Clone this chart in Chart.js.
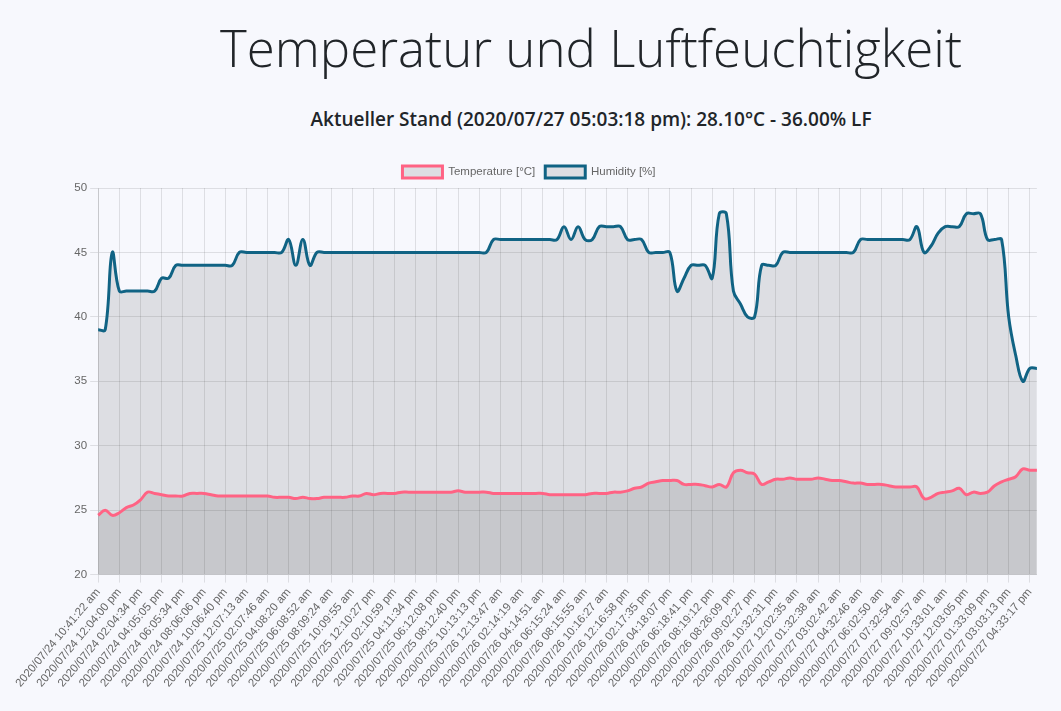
<!DOCTYPE html>
<html lang="de">
<head>
<meta charset="utf-8">
<title>Temperatur und Luftfeuchtigkeit</title>
<script src="https://cdn.jsdelivr.net/npm/chart.js@4/dist/chart.umd.min.js"></script>
<style>
  html, body { margin: 0; padding: 0; background: #f7f8fd; }
  body { width: 1061px; height: 711px; position: relative; overflow: hidden; }
  h1 {
    position: absolute; left: 122px; width: 938px; top: 12px; margin: 0;
    text-align: center; font-family: "Open Sans", sans-serif; font-weight: 300;
    font-size: 51px; line-height: 70px; color: #212529;
  }
  h5 {
    position: absolute; left: 122px; width: 938px; top: 106px; margin: 0;
    text-align: center; font-family: "Open Sans", sans-serif; font-weight: 600;
    font-size: 19px; line-height: 26px; color: #212529;
  }
  #box { position: absolute; left: 15px; top: 156px; width: 1028px; height: 537px; }
</style>
</head>
<body>
<h1>Temperatur und Luftfeuchtigkeit</h1>
<h5>Aktueller Stand (2020/07/27 05:03:18 pm): 28.10°C - 36.00% LF</h5>
<div id="box"><canvas id="myChart"></canvas></div>
<script>
// every third reading gets a label on the axis
const tickLabels = [
    '2020/07/24 10:41:22 am', '2020/07/24 12:04:00 pm', '2020/07/24 02:04:34 pm', '2020/07/24 04:05:05 pm',
    '2020/07/24 06:05:34 pm', '2020/07/24 08:06:06 pm', '2020/07/24 10:06:40 pm', '2020/07/25 12:07:13 am',
    '2020/07/25 02:07:46 am', '2020/07/25 04:08:20 am', '2020/07/25 06:08:52 am', '2020/07/25 08:09:24 am',
    '2020/07/25 10:09:55 am', '2020/07/25 12:10:27 pm', '2020/07/25 02:10:59 pm', '2020/07/25 04:11:34 pm',
    '2020/07/25 06:12:08 pm', '2020/07/25 08:12:40 pm', '2020/07/25 10:13:13 pm', '2020/07/26 12:13:47 am',
    '2020/07/26 02:14:19 am', '2020/07/26 04:14:51 am', '2020/07/26 06:15:24 am', '2020/07/26 08:15:55 am',
    '2020/07/26 10:16:27 am', '2020/07/26 12:16:58 pm', '2020/07/26 02:17:35 pm', '2020/07/26 04:18:07 pm',
    '2020/07/26 06:18:41 pm', '2020/07/26 08:19:12 pm', '2020/07/26 08:26:09 pm', '2020/07/26 09:02:27 pm',
    '2020/07/26 10:32:31 pm', '2020/07/27 12:02:35 am', '2020/07/27 01:32:38 am', '2020/07/27 03:02:42 am',
    '2020/07/27 04:32:46 am', '2020/07/27 06:02:50 am', '2020/07/27 07:32:54 am', '2020/07/27 09:02:57 am',
    '2020/07/27 10:33:01 am', '2020/07/27 12:03:05 pm', '2020/07/27 01:33:09 pm', '2020/07/27 03:03:13 pm',
    '2020/07/27 04:33:17 pm'
];
const lastLabel = '2020/07/27 05:03:18 pm';

const temperature = [
    24.6, 25.0, 24.6, 24.8, 25.2, 25.4, 25.8, 26.4, 26.3, 26.2,
    26.1, 26.1, 26.1, 26.3, 26.3, 26.3, 26.2, 26.1, 26.1, 26.1,
    26.1, 26.1, 26.1, 26.1, 26.1, 26.0, 26.0, 26.0, 25.9, 26.0,
    25.9, 25.9, 26.0, 26.0, 26.0, 26.0, 26.1, 26.1, 26.3, 26.2,
    26.3, 26.3, 26.3, 26.4, 26.4, 26.4, 26.4, 26.4, 26.4, 26.4,
    26.4, 26.5, 26.4, 26.4, 26.4, 26.4, 26.3, 26.3, 26.3, 26.3,
    26.3, 26.3, 26.3, 26.3, 26.2, 26.2, 26.2, 26.2, 26.2, 26.2,
    26.3, 26.3, 26.3, 26.4, 26.4, 26.5, 26.7, 26.8, 27.1, 27.2,
    27.3, 27.3, 27.3, 27.0, 27.0, 27.0, 26.9, 26.8, 27.0, 26.8,
    27.9, 28.1, 27.9, 27.8, 27.0, 27.2, 27.4, 27.4, 27.5, 27.4,
    27.4, 27.4, 27.5, 27.4, 27.3, 27.3, 27.2, 27.1, 27.1, 27.0,
    27.0, 27.0, 26.9, 26.8, 26.8, 26.8, 26.8, 25.9, 26.0, 26.3,
    26.4, 26.5, 26.7, 26.2, 26.4, 26.3, 26.4, 26.9, 27.2, 27.4,
    27.6, 28.2, 28.1, 28.1
];

const humidity = [
    39, 39, 45, 42, 42, 42, 42, 42, 42, 43,
    43, 44, 44, 44, 44, 44, 44, 44, 44, 44,
    45, 45, 45, 45, 45, 45, 45, 46, 44, 46,
    44, 45, 45, 45, 45, 45, 45, 45, 45, 45,
    45, 45, 45, 45, 45, 45, 45, 45, 45, 45,
    45, 45, 45, 45, 45, 45, 46, 46, 46, 46,
    46, 46, 46, 46, 46, 46, 47, 46, 47, 46,
    46, 47, 47, 47, 47, 46, 46, 46, 45, 45,
    45, 45, 42, 43, 44, 44, 44, 43, 48, 48,
    42, 41, 40, 40, 44, 44, 44, 45, 45, 45,
    45, 45, 45, 45, 45, 45, 45, 45, 46, 46,
    46, 46, 46, 46, 46, 46, 47, 45, 45.5, 46.5,
    47, 47, 47, 48, 48, 48, 46, 46, 46, 40,
    37, 35, 36, 36
];

const yTicks = [20, 25, 30, 35, 40, 45, 50];

// one category per reading, the ones in between have no visible label
const labels = [];
tickLabels.forEach((l, i) => {
    labels.push(l);
    if (i < tickLabels.length - 1) labels.push('', '');
});
labels.push(lastLabel);

Chart.defaults.font.family = "'Helvetica Neue', 'Helvetica', 'Arial', sans-serif";
Chart.defaults.font.size = 11.5;
Chart.defaults.color = '#666';

const ctx = document.getElementById('myChart').getContext('2d');
const myChart = new Chart(ctx, {
    type: 'line',
    data: {
        labels: labels,
        datasets: [{
            label: 'Temperature [°C]',
            data: temperature,
            borderColor: 'rgb(255, 99, 132)',
            backgroundColor: 'rgba(0, 0, 0, 0.1)',
            borderWidth: 3,
            fill: 'origin',
            pointRadius: 0,
            tension: 0.4
        }, {
            label: 'Humidity [%]',
            data: humidity,
            borderColor: 'rgb(16, 99, 132)',
            backgroundColor: 'rgba(0, 0, 0, 0.1)',
            borderWidth: 3,
            fill: 'origin',
            pointRadius: 0,
            tension: 0.4
        }]
    },
    options: {
        responsive: true,
        maintainAspectRatio: false,
        animation: false,
        plugins: {
            legend: {
                labels: { boxWidth: 40, boxHeight: 12 }
            },
            tooltip: { enabled: false }
        },
        scales: {
            x: {
                grid: { color: 'rgba(0, 0, 0, 0.1)' },
                ticks: {
                    autoSkip: false,
                    minRotation: 50,
                    maxRotation: 50,
                    callback: function (value, index) {
                        return (index % 3 === 0 && index < labels.length - 1) ? labels[index] : null;
                    }
                }
            },
            y: {
                min: yTicks[0],
                max: yTicks[yTicks.length - 1],
                grid: { color: 'rgba(0, 0, 0, 0.1)' },
                ticks: { stepSize: yTicks[1] - yTicks[0] }
            }
        }
    }
});
</script>
</body>
</html>
